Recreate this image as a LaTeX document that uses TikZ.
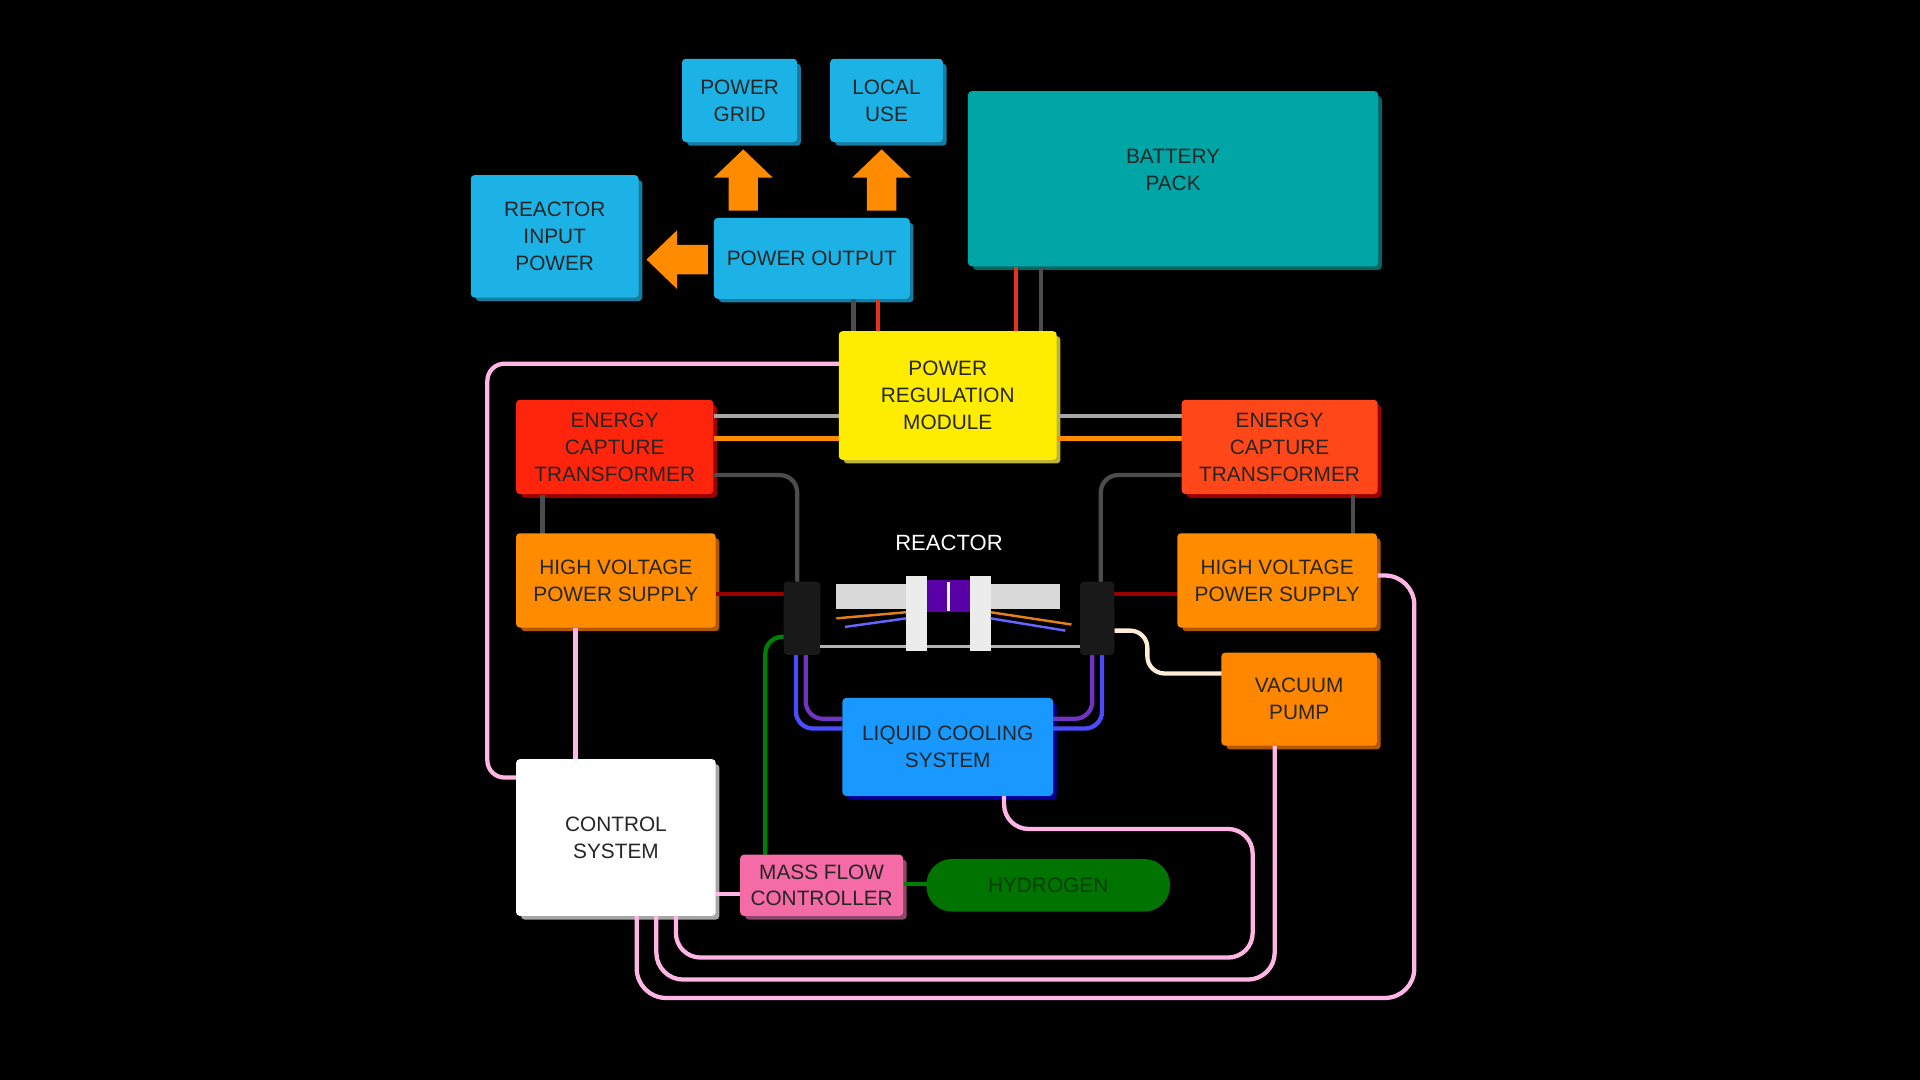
\documentclass[tikz,border=0pt]{standalone}
\usepackage{fontspec}
\setmainfont{Liberation Sans}
\usetikzlibrary{arrows.meta,shapes.geometric}
\definecolor{cyb}{HTML}{1CB2E6}
\begin{document}
\begin{tikzpicture}[x=1pt,y=-1pt,
 box/.style={draw=none,rounded corners=3pt,align=center,text=black!85,inner sep=0pt,
   font=\fontsize{17}{22}\selectfont},
 wire/.style={line width=3.5pt,rounded corners=14pt},
 pinkw/.style={wire,draw=pink!70!magenta!60},
 blk/.style={wire,draw=black!70!white},
 bigarrow/.style={fill=orange!80!red!75!yellow,draw=none}]
\fill[black] (0,0) rectangle (1568,882);
\useasboundingbox (0,0) rectangle (1568,882);
\foreach \x/\y/\w/\h/\c in {604/82/94/68/cyb!70!black,724/82/92/68/cyb!70!black,958/146/335/143/teal!80!black,453/193/137/100/cyb!70!black,663/211/160/66/cyb!70!black,774/323/178/105/yellow!70!black,502/365/161/77/red!60!black,1045/365/160/77/red!60!black,503/474/163/77/orange!70!black,1043/474/163/77/orange!70!black,774/610/172/80/blue!60!black,1061/571/127/76/orange!70!black,503/684/163/128/gray!70,671/723/133/50/magenta!50!black}
 \fill[\c,rounded corners=3pt] (\x-\w/2+4,\y-\h/2+4) rectangle (\x+\w/2+3,\y+\h/2+3);
% wires
\draw[blk] (697,244) -- (697,271);
\draw[wire,draw=red!60!brown] (717,244) -- (717,271);
\draw[wire,draw=red!60!brown] (830,218) -- (830,271);
\draw[blk] (850,218) -- (850,271);
\draw[wire,draw=gray!70] (583,340) -- (685,340);
\draw[wire,draw=orange!90!yellow] (583,358) -- (685,358);
\draw[wire,draw=gray!70] (863,340) -- (965,340);
\draw[wire,draw=orange!90!yellow] (863,358) -- (965,358);
\draw[blk] (443,404) -- (443,436);
\draw[blk] (1105,404) -- (1105,436);
\draw[blk] (583,388) -- (651,388) -- (651,476);
\draw[blk] (965,388) -- (899,388) -- (899,476);
\draw[wire,draw=red!60!black] (585,485) -- (640,485);
\draw[wire,draw=red!60!black] (910,485) -- (962,485);
\draw[pinkw] (685,297) -- (398,297) -- (398,635) -- (422,635);
\draw[pinkw] (470,513) -- (470,620);
\draw[wire,draw=green!50!black] (625,698) -- (625,520) -- (642,520);
\draw[wire,draw=white!85!orange] (910,515) -- (937,515) -- (937,550) -- (998,550);
\draw[wire,draw=green!50!black] (738,722) -- (757,722);
\draw[pinkw] (585,730) -- (605,730);
\foreach \d/\c in {0/blue!70!white,8/blue!40!violet!80!white}{
 \draw[wire,draw=\c] (650+\d,535) -- (650+\d,595-\d) -- (688,595-\d);
 \draw[wire,draw=\c] (900-\d,535) -- (900-\d,595-\d) -- (860,595-\d);}
\draw[pinkw,rounded corners=24pt] (520,748) -- (520,815) -- (1155,815) -- (1155,470) -- (1125,470);
\draw[pinkw,rounded corners=22pt] (536,748) -- (536,800) -- (1041,800) -- (1041,609);
\draw[pinkw,rounded corners=20pt] (552,748) -- (552,782) -- (1023,782) -- (1023,677) -- (820,677) -- (820,650);
% boxes
\node[box,fill=cyb,minimum width=94,minimum height=68] (grid) at (604,82) {POWER\\GRID};
\node[box,fill=cyb,minimum width=92,minimum height=68] (local) at (724,82) {LOCAL\\USE};
\node[box,fill=teal!70!cyan,minimum width=335,minimum height=143] (bat) at (958,146) {};
\node[box] (batt) at (958,139) {BATTERY\\PACK};
\node[box,fill=cyb,minimum width=137,minimum height=100] (rip) at (453,193) {REACTOR\\INPUT\\POWER};
\node[box,fill=cyb,minimum width=160,minimum height=66] (pout) at (663,211) {POWER OUTPUT};
\node[box,fill=yellow!95!orange,minimum width=178,minimum height=105] (prm) at (774,323) {POWER\\REGULATION\\MODULE};
\node[box,fill=red!80!orange!95,minimum width=161,minimum height=77] (ectl) at (502,365) {ENERGY\\CAPTURE\\TRANSFORMER};
\node[box,fill=red!60!orange!90,minimum width=160,minimum height=77] (ectr) at (1045,365) {ENERGY\\CAPTURE\\TRANSFORMER};
\node[box,fill=orange!90!yellow,minimum width=163,minimum height=77] (hvl) at (503,474) {HIGH VOLTAGE\\POWER SUPPLY};
\node[box,fill=orange!90!yellow,minimum width=163,minimum height=77] (hvr) at (1043,474) {HIGH VOLTAGE\\POWER SUPPLY};
\node[box,fill=blue!45!cyan!90,minimum width=172,minimum height=80] (lcs) at (774,610) {LIQUID COOLING\\SYSTEM};
\node[box,fill=orange!75!red!75!yellow,minimum width=127,minimum height=76] (vac) at (1061,571) {VACUUM\\PUMP};
\node[box,fill=white,minimum width=163,minimum height=128] (ctrl) at (503,684) {CONTROL\\SYSTEM};
\node[box,fill=magenta!45!pink,minimum width=133,minimum height=50] (mfc) at (671,723) {MASS FLOW\\CONTROLLER};
\node[box,fill=green!45!black,text=green!25!black,rounded corners=21pt,minimum width=199,minimum height=43] (h2) at (856,723) {HYDROGEN};
\fill[bigarrow] (595,172) -- (595,145) -- (583,145) -- (607,122) -- (631,145) -- (619,145) -- (619,172) -- cycle;
\fill[bigarrow] (708,172) -- (708,145) -- (696,145) -- (720,122) -- (744,145) -- (732,145) -- (732,172) -- cycle;
\fill[bigarrow] (578,200) -- (553,200) -- (553,188) -- (528,212) -- (553,236) -- (553,224) -- (578,224) -- cycle;
% reactor
\node[text=white,font=\fontsize{18}{22}\selectfont] (rl) at (775,443) {REACTOR};
\fill[black!80!gray,rounded corners=3pt] (640,475) rectangle (670,535);
\fill[black!80!gray,rounded corners=3pt] (882,475) rectangle (910,535);
\draw[line width=3pt,gray!60] (670,528) -- (882,528);
\fill[gray!30] (683,477) rectangle (866,497);
\fill[white!85!gray] (740,470) rectangle (757,532);
\fill[white!85!gray] (792,470) rectangle (809,532);
\fill[violet!70!blue] (757,474) rectangle (792,500);
\fill[white] (773,475) rectangle (776,499);
\draw[line width=2pt,orange!60!brown] (683,505) -- (740,500);
\draw[line width=2pt,blue!60] (690,512) -- (740,505);
\draw[line width=2pt,orange!60!brown] (809,500) -- (875,510);
\draw[line width=2pt,blue!60] (809,505) -- (870,515);
\end{tikzpicture}
\end{document}
